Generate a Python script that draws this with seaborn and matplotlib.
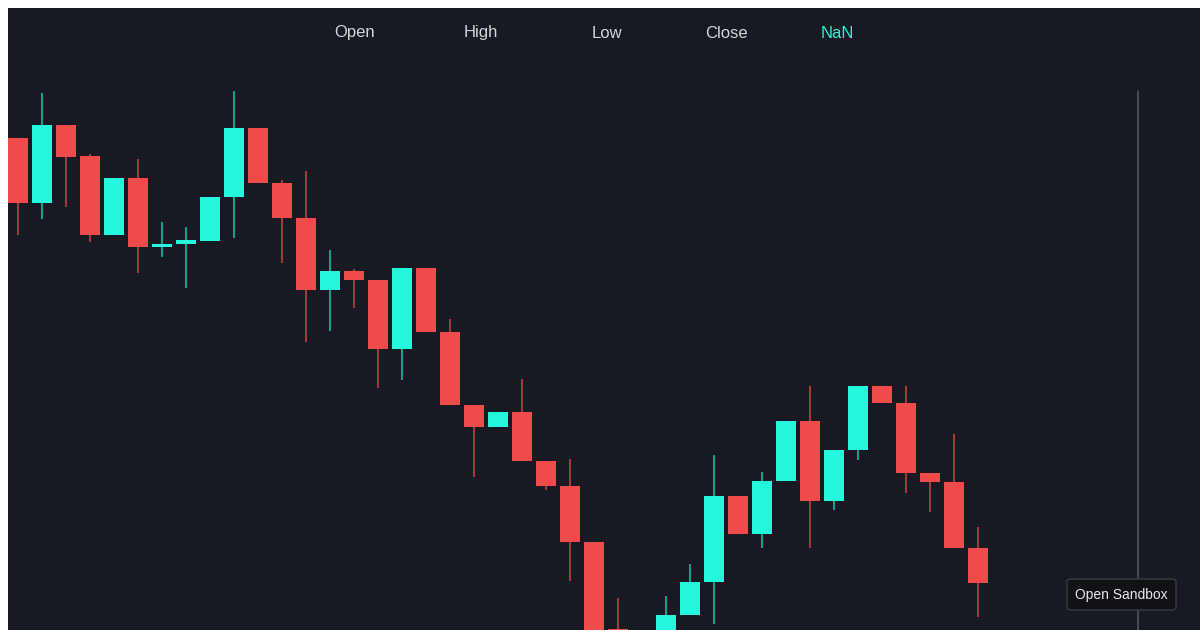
import numpy as np
import pandas as pd
import seaborn as sns
import matplotlib.pyplot as plt
from matplotlib.patches import FancyBboxPatch

# candle values (price units, higher = up)
opens = [492, 427, 505, 474, 395, 452, 383, 386, 389, 433, 502, 447, 412, 340, 359, 350, 281, 362, 298, 225, 203, 218, 169, 144, 88, 1, -30, -30, 15, 48, 134, 96, 149, 209, 129, 180, 244, 227, 157, 148, 82]
closes = [427, 505, 473, 395, 452, 383, 386, 390, 433, 502, 447, 412, 340, 359, 350, 281, 362, 298, 225, 203, 218, 169, 144, 88, -30, -30, 0, 15, 48, 134, 96, 149, 209, 129, 180, 244, 227, 157, 148, 82, 47]
highs = [492, 537, 505, 476, 452, 471, 408, 403, 433, 539, 502, 450, 459, 380, 361, 350, 362, 362, 311, 225, 218, 251, 169, 171, 88, 32, -20, 34, 66, 175, 134, 158, 209, 244, 180, 244, 244, 244, 157, 196, 103]
lows = [395, 411, 423, 388, 395, 357, 373, 342, 389, 392, 447, 367, 288, 299, 322, 242, 250, 298, 225, 153, 203, 169, 140, 49, 50, -40, -40, -40, 15, 6, 96, 82, 149, 82, 120, 170, 227, 137, 118, 82, 13]

bg = "#171a22"
up_body, down_body = "#23f7dc", "#ef4b4b"
up_wick, down_wick = "#1c9c8a", "#9c3a3c"

df = pd.DataFrame({"open": opens, "close": closes, "high": highs, "low": lows})
df["i"] = np.arange(len(df))
df["up"] = df["close"] >= df["open"]

sns.set_style("dark", {"axes.facecolor": bg})
plt.rcParams["font.family"] = ["Liberation Sans", "DejaVu Sans"]
fig = plt.figure(figsize=(12, 6.3), dpi=100, facecolor="white")
ax = fig.add_axes([8 / 1200, 0, 1192 / 1200, 622 / 630])
ax.set_facecolor(bg)

for _, r in df.iterrows():
    wc = up_wick if r["up"] else down_wick
    bc = up_body if r["up"] else down_body
    ax.vlines(r["i"], r["low"], r["high"], color=wc, linewidth=1.5, zorder=1)
    lo, hi = min(r["open"], r["close"]), max(r["open"], r["close"])
    ax.bar(r["i"], max(hi - lo, 2), bottom=lo, width=0.84, color=bc, linewidth=0, zorder=2)

ax.set_xlim(-0.42, -0.42 + 1192 / 24)
ax.set_ylim(0, 622)
ax.axvline(46.67, ymax=(630 - 91) / 622, color="#50535c", linewidth=1.2)
ax.set_xticks([])
ax.set_yticks([])
for s in ax.spines.values():
    s.set_visible(False)

for label, x, c in [("Open", 355, "#d6d6d6"), ("High", 481, "#d6d6d6"), ("Low", 607, "#d6d6d6"),
                    ("Close", 726, "#d6d6d6"), ("NaN", 837, "#23f7dc")]:
    fig.text(x / 1200, 1 - 33 / 630, label, color=c, fontsize=12, ha="center", va="center")

btn = FancyBboxPatch((1067 / 1200, 1 - 610 / 630), 109 / 1200, 31 / 630,
                     boxstyle="round,pad=0,rounding_size=0.004", transform=fig.transFigure,
                     facecolor="#111216", edgecolor="#3a3c42", linewidth=1)
fig.patches.append(btn)
fig.text(1121 / 1200, 1 - 595 / 630, "Open Sandbox", color="#e8e8e8", fontsize=10, ha="center", va="center")

fig.savefig("out.png", dpi=100, facecolor="white")
